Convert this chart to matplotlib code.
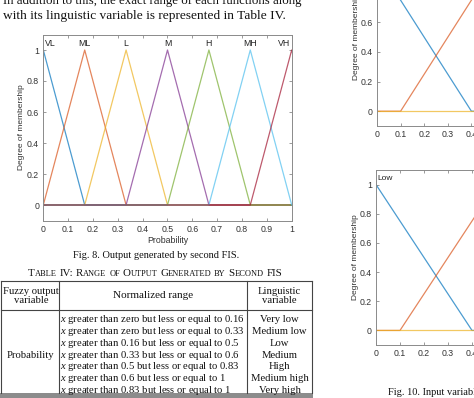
import numpy as np
import matplotlib
matplotlib.use('Agg')
import matplotlib.pyplot as plt

plt.rcParams['font.family'] = ['Liberation Sans', 'DejaVu Sans']
plt.rcParams['mathtext.fontset'] = 'custom'
plt.rcParams['mathtext.rm'] = 'Liberation Serif'
plt.rcParams['mathtext.it'] = 'Liberation Serif:italic'

W, H = 474, 398

# Fig. 8: output MFs of the second FIS (trimf a, b, c)
out_names = ['VL', 'ML', 'L', 'M', 'H', 'MH', 'VH']
out_params = [[-0.1667, 0.0, 0.1667],
              [0.0, 0.1667, 0.3333],
              [0.1667, 0.3333, 0.5],
              [0.3333, 0.5, 0.6667],
              [0.5, 0.6667, 0.8333],
              [0.6667, 0.8333, 1.0],
              [0.8333, 1.0, 1.1667]]

# Fig. 10: input variable MFs (only the left part is on the page)
in_names = ['Low', 'Medium', 'High']
in_params = [[-0.4, 0.0, 0.4],
             [0.1, 0.5, 0.9],
             [0.6, 1.0, 1.4]]

# Table IV
table_title = 'Table IV: Range of Output Generated by Second FIS'
table_header = ['Fuzzy output\nvariable', 'Normalized range', 'Linguistic\nvariable']
table_var = 'Probability'
table_ranges = ['zero but less or equal to 0.16',
                'zero but less or equal to 0.33',
                '0.16 but less or equal to 0.5',
                '0.33 but less or equal to 0.6',
                '0.5 but less or equal to 0.83',
                '0.6 but less or equal to 1',
                '0.83 but less or equal to 1']
table_ling = ['Very low', 'Medium low', 'Low', 'Medium', 'High', 'Medium high', 'Very high']

x_ticks = [0, 0.1, 0.2, 0.3, 0.4, 0.5, 0.6, 0.7, 0.8, 0.9, 1]
y_ticks = [0, 0.2, 0.4, 0.6, 0.8, 1]

mat_colors = ['#0072BD', '#D95319', '#EDB120', '#7E2F8E', '#77AC30', '#4DBEEE', '#A2142F']

fig = plt.figure(figsize=(W / 100, H / 100), dpi=100)
renderer = fig.canvas.get_renderer()

# page layer in pixel coordinates for the paper text and table
pg = fig.add_axes([0, 0, 1, 1])
pg.set_xlim(0, W)
pg.set_ylim(H, 0)
pg.axis('off')


def px_rect(l, t, r, b):
    return [l / W, 1 - b / H, (r - l) / W, (b - t) / H]


def serif(x, y, s, size=10, width=None, **kw):
    kw.setdefault('va', 'baseline')
    t = pg.text(x, y, s, fontsize=size, family='Liberation Serif', color='#111111', **kw)
    if width:
        w = t.get_window_extent(renderer).width
        t.set_fontsize(size * width / w)
    return t


def mf_plot(ax, names, params, label_size, ylab_pad):
    for i, (a, b, c) in enumerate(params):
        xs = [min(a, 0), a, b, c, max(c, 1)]
        ys = [0, 0, 1, 0, 0]
        ax.plot(xs, ys, color=mat_colors[i], lw=0.9, alpha=0.7)
    for i, (name, p) in enumerate(zip(names, params)):
        if i == 0:
            ha = 'left'
        elif i == len(names) - 1:
            ha = 'right'
        else:
            ha = 'center'
        ax.text(min(max(p[1], 0.005), 0.995), 1.045, name, ha=ha, va='center',
                fontsize=label_size, color='#222222')
    ax.set_xlim(0, 1)
    ax.set_ylim(-0.1, 1.1)
    ax.set_xticks(x_ticks)
    ax.set_xticklabels([f'{v:g}' for v in x_ticks])
    ax.set_yticks(y_ticks)
    ax.set_yticklabels([f'{v:g}' for v in y_ticks])
    ax.tick_params(direction='in', top=True, right=True, length=2.5, width=0.6,
                   labelsize=6.3, colors='#8a8a8a', labelcolor='#333333', pad=3)
    for sp in ax.spines.values():
        sp.set_color('#8a8a8a')
        sp.set_linewidth(0.7)
    ax.set_ylabel('Degree of membership', fontsize=6.0, color='#333333', labelpad=ylab_pad)


# main chart (Fig. 8)
ax = fig.add_axes(px_rect(43.3, 34.5, 291.7, 220.5))
mf_plot(ax, out_names, out_params, 6.3, 1.0)
ax.set_xlabel('Probability', fontsize=6.3, color='#333333', labelpad=2)

# partial charts on the right column (Fig. 10)
ax2 = fig.add_axes(px_rect(377, -51.6, 613, 126))
mf_plot(ax2, in_names, in_params, 6.0, 0.5)
ax3 = fig.add_axes(px_rect(376, 170, 616, 345))
mf_plot(ax3, in_names, in_params, 6.0, 0.5)

# paragraph text
serif(3, 19.5, 'with its linguistic variable is represented in Table IV.', width=282)
serif(3, 4, 'In addition to this, the exact range of each functions along', width=300)

# captions
cap = serif(156, 258, 'Fig. 8. Output generated by second FIS.', width=166, ha='center')
serif(388, 395, 'Fig. 10. Input variables', size=cap.get_fontsize())

# table title in small caps
big, small = 9.0, 7.0
pieces = []
for word in table_title.split(' '):
    runs = []
    for ch in word:
        up = ch.isupper() or not ch.isalpha()
        if runs and runs[-1][1] == up:
            runs[-1][0] += ch
        else:
            runs.append([ch, up])
    pieces.append(runs)
texts, xpos, cur = [], [], 0.0
gap = big * 100 / 72 * 0.25
for runs in pieces:
    for s, up in runs:
        t = serif(0, 276, s.upper(), size=big if up else small)
        texts.append(t)
        xpos.append(cur)
        cur += t.get_window_extent(renderer).width
    cur += gap
cur -= gap
scale = 254 / cur
for t, x in zip(texts, xpos):
    t.set_fontsize(t.get_fontsize() * scale)
    t.set_x(155 - 127 + x * scale)

# table frame
tl, c1, c2, tr = 1, 59, 247, 312
ttop, thead, tbot = 281, 310, 393
lc = '#444444'
for xv in [tl, c1, c2, tr]:
    pg.plot([xv, xv], [ttop, tbot], color=lc, lw=0.8)
pg.plot([tl, tr], [ttop, ttop], color=lc, lw=0.8)
pg.plot([tl, tr], [thead, thead], color=lc, lw=0.8)
pg.add_patch(plt.Rectangle((0, tbot), tr + 1, H - tbot, color='#8c8c8c', lw=0))

# table body: fit the widest range row, use that size everywhere
row_y0, row_dy = 320, 11.7
row_fs = None
for i, (rng, ling) in enumerate(zip(table_ranges, table_ling)):
    y = row_y0 + i * row_dy
    if row_fs is None:
        t = serif(c1 + 1.5, y, r'$x$ greater than ' + rng, size=8.8, width=184, va='center')
        row_fs = t.get_fontsize()
    else:
        serif(c1 + 1.5, y, r'$x$ greater than ' + rng, size=row_fs, va='center')
    serif((c2 + tr) / 2, y, ling, size=row_fs, ha='center', va='center')
serif((tl + c1) / 2, row_y0 + 3 * row_dy, table_var, size=row_fs, ha='center', va='center')

serif((tl + c1) / 2 + 1, 296, table_header[0], size=row_fs, ha='center', va='center', linespacing=1.0)
serif((c1 + c2) / 2, 296, table_header[1], size=row_fs * 1.05, ha='center', va='center')
serif((c2 + tr) / 2, 296, table_header[2], size=row_fs, ha='center', va='center', linespacing=1.0)

fig.savefig('out.png', dpi=100)
